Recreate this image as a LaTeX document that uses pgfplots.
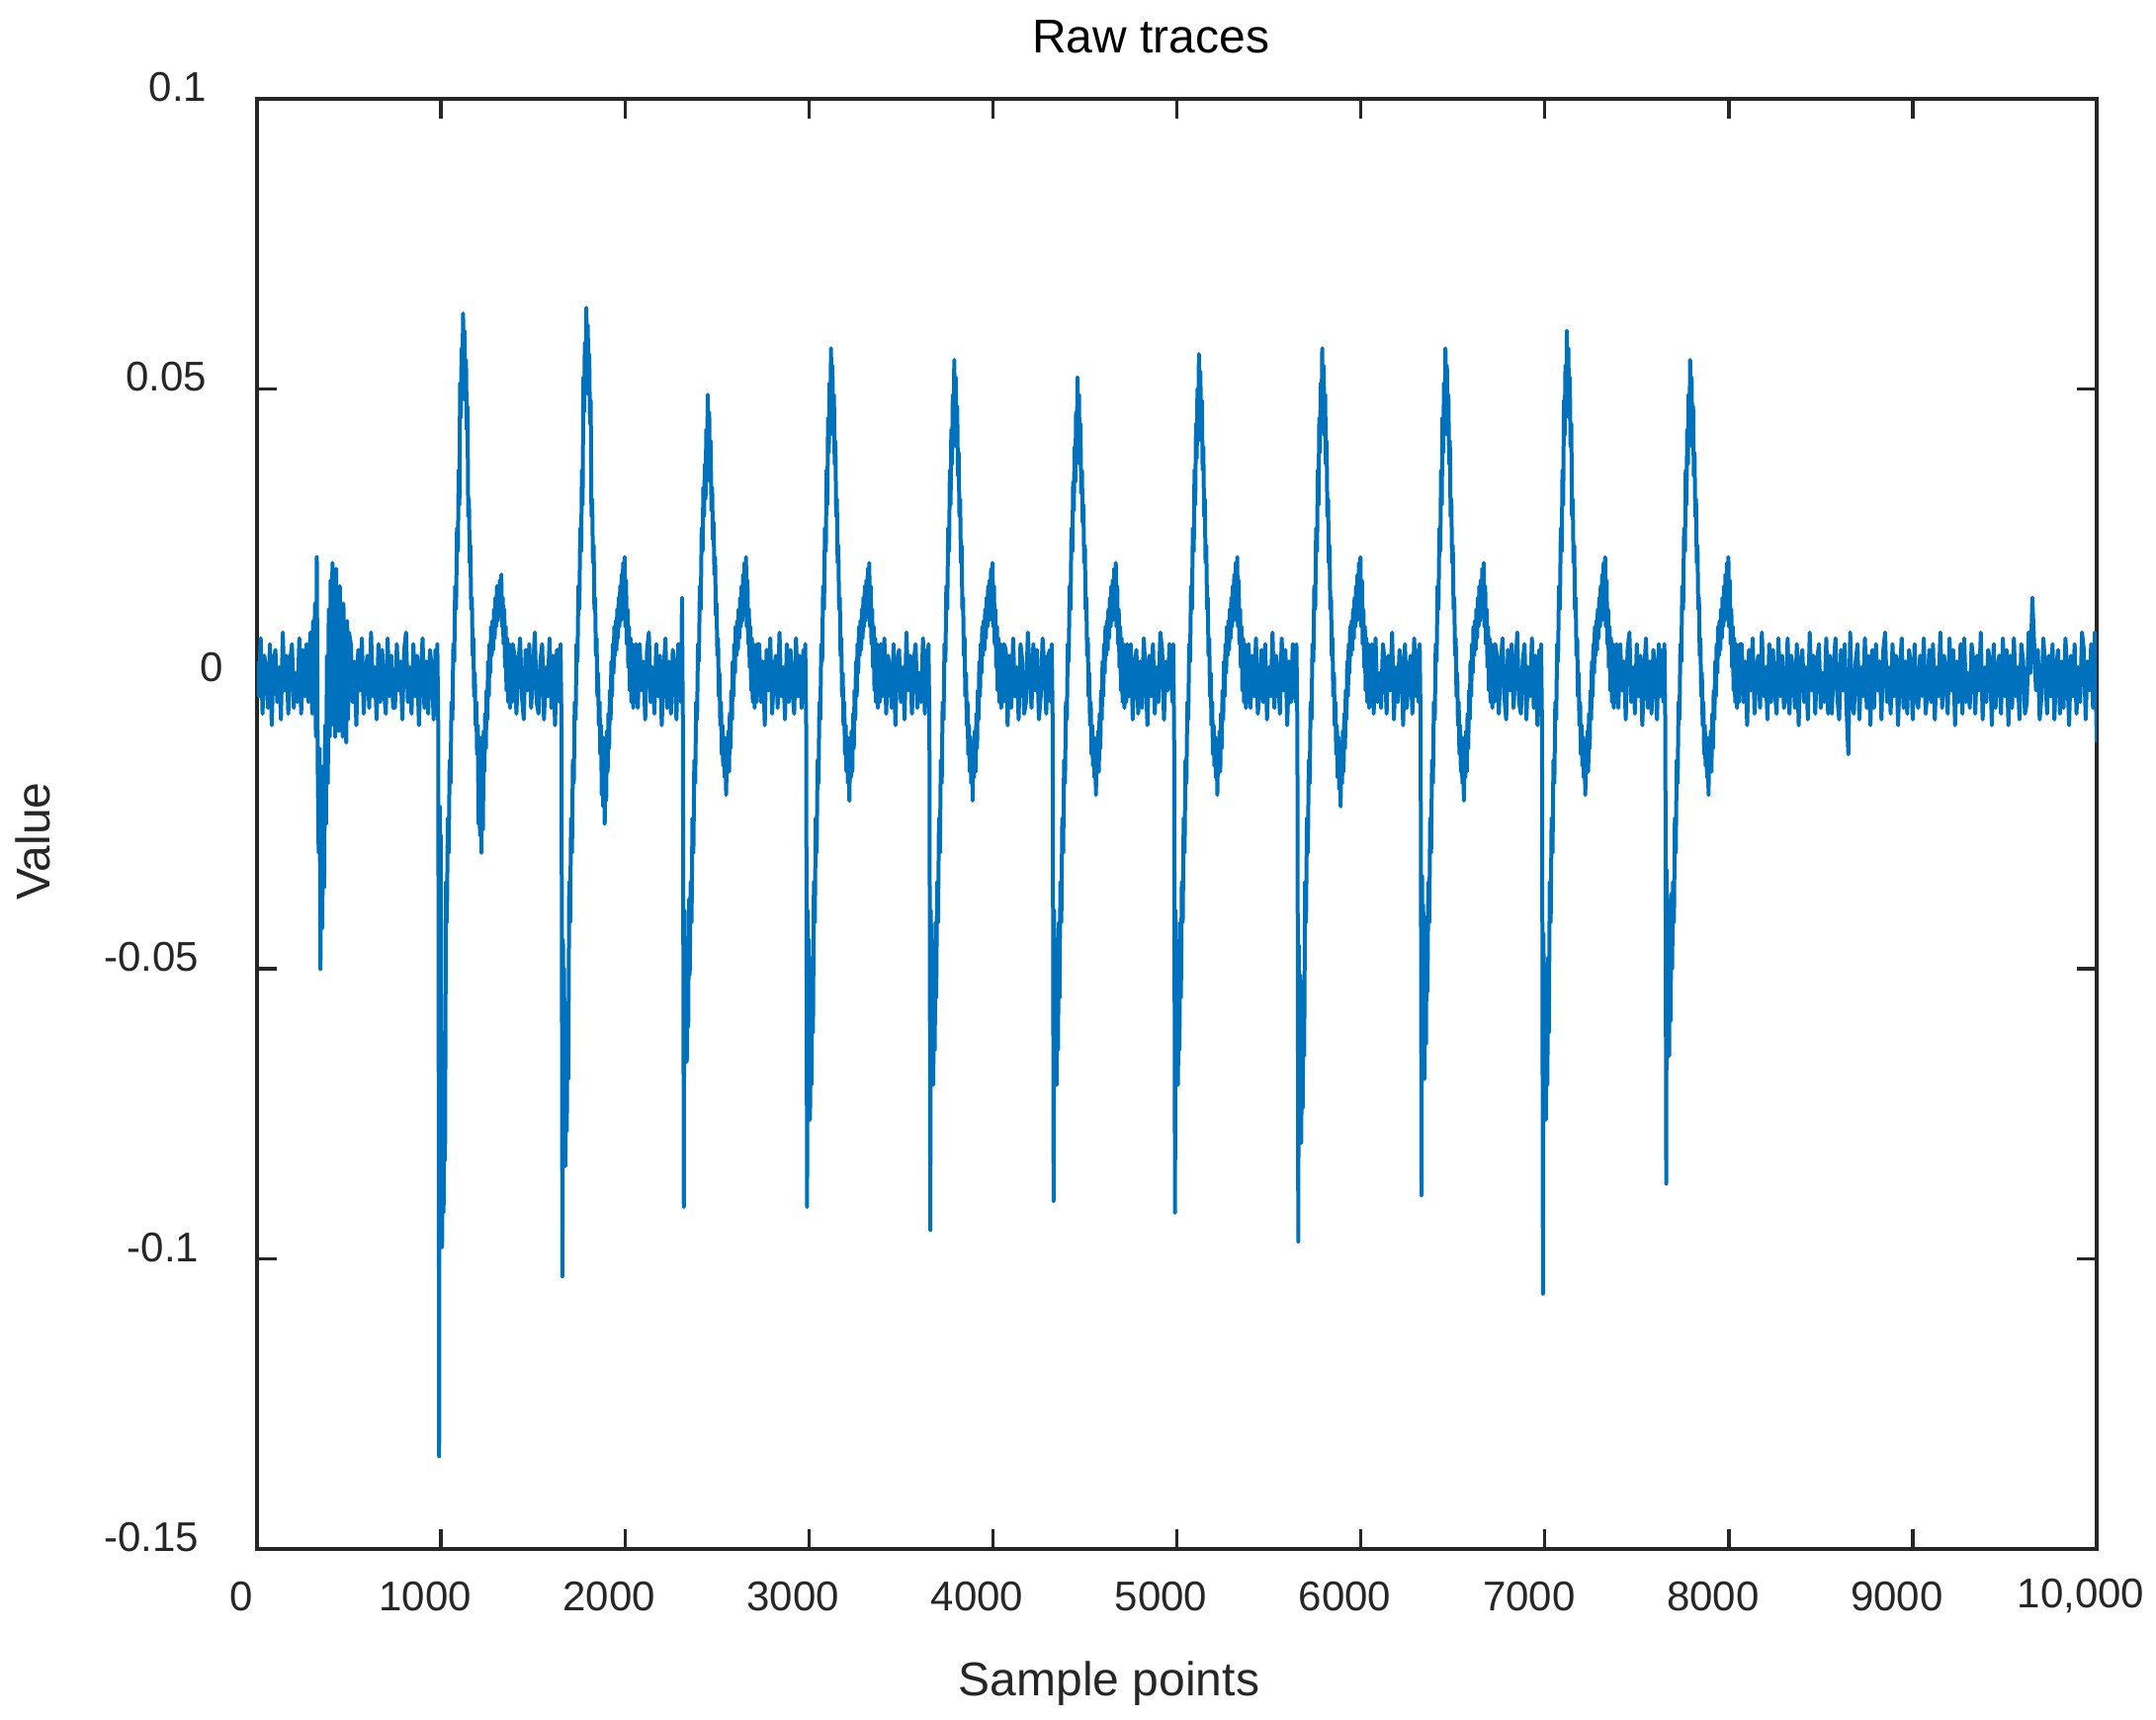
\documentclass[border=0pt]{standalone}
\usepackage{pgfplots}
\pgfplotsset{compat=1.18}
\usepackage{fontspec}
\setmainfont{Liberation Sans}
\definecolor{mblue}{RGB}{0,114,189}
\definecolor{axgray}{RGB}{38,38,38}
\begin{document}
\begin{tikzpicture}
\useasboundingbox (-65pt,-43.25pt) rectangle (480.25pt,391.75pt);
\begin{axis}[
  at={(0,0)}, anchor=south west,
  scale only axis,
  width=465.25pt, height=366.75pt,
  xmin=0, xmax=10000, ymin=-0.15, ymax=0.1,
  axis line style={axgray, line width=0.85pt},
  every tick/.style={axgray, line width=0.85pt},
  tick align=inside,
  major tick length=5pt,
  scaled x ticks=false, scaled y ticks=false,
  every axis title shift=0pt,
  xtick={0,1000,2000,3000,4000,5000,6000,7000,8000,9000,10000},
  xticklabels={0,1000,2000,3000,4000,5000,6000,7000,8000,9000,{10,000}},
  ytick={-0.15,-0.1,-0.05,0,0.05,0.1},
  yticklabels={{-0.15\hspace*{2pt}},{-0.1\hspace*{2pt}},{-0.05\hspace*{2pt}},{0\hspace*{-4.25pt}},0.05,0.1},
  xticklabel style={font=\fontsize{10.5}{12}\selectfont, text=axgray, anchor=center, xshift=-4pt, yshift=-12pt},
  yticklabel style={font=\fontsize{10.5}{12}\selectfont, text=axgray, anchor=east, inner sep=0pt, xshift=-12.5pt, yshift=3pt},
  title={Raw traces},
  title style={font=\fontsize{12}{14}\selectfont, anchor=center, at={(axis description cs:0.4858,1.0429)}},
  xlabel={Sample points},
  xlabel style={font=\fontsize{12}{14}\selectfont, text=axgray, anchor=center, at={(axis description cs:0.4632,-0.0927)}},
  ylabel={Value},
  ylabel style={font=\fontsize{12}{14}\selectfont, text=axgray, anchor=center, at={(axis description cs:-0.122,0.488)}},
]
\addplot[mblue, line width=1pt, line join=round, mark=none] coordinates {
(0,0.003) (10,-0.003) (20,0.007) (30,-0.006) (40,0.004) (50,0.001) (60,-0.005) (70,0.006) (80,-0.008) (90,0.003)
(100,0.005) (110,-0.004) (120,0.002) (130,-0.007) (140,0.008) (150,-0.002) (160,0.004) (170,-0.006) (180,0.003) (190,0.006)
(200,-0.005) (210,0.001) (220,-0.004) (230,0.007) (240,-0.006) (250,0.005) (260,-0.003) (270,0.006) (280,-0.004) (290,0.008)
(300,-0.006) (305,0.01) (310,-0.004) (315,0.013) (320,-0.01) (325,0.021) (330,-0.015) (335,-0.03) (340,-0.012) (345,-0.05)
(350,-0.022) (355,-0.043) (360,-0.015) (365,-0.036) (370,-0.008) (375,-0.025) (380,0.004) (385,-0.018) (390,0.012) (395,-0.01)
(400,0.017) (405,-0.008) (410,0.02) (415,-0.006) (420,0.014) (425,-0.01) (430,0.019) (435,-0.005) (440,0.012) (445,-0.009)
(450,0.016) (455,-0.004) (460,0.011) (465,-0.01) (470,0.013) (475,-0.006) (480,0.009) (485,-0.011) (490,0.01) (495,-0.007) (500,0.008)
(510,0.006) (520,-0.004) (530,0.003) (540,-0.008) (550,0.005) (560,-0.002) (570,0.007) (580,-0.006) (590,0.001) (600,0.004)
(610,-0.005) (620,0.008) (630,-0.003) (640,0.002) (650,-0.007) (660,0.006) (670,-0.004) (680,0.005) (690,-0.002) (700,-0.006)
(710,0.007) (720,-0.003) (730,0.004) (740,-0.005) (750,-0.005) (760,0.006) (770,-0.002) (780,0.003) (790,-0.007) (800,0.005)
(810,0.008) (820,-0.004) (830,0.002) (840,-0.006) (850,0.006) (860,-0.003) (870,0.004) (880,-0.008) (890,0.001) (900,0.007)
(910,-0.005) (920,0.003) (930,-0.006) (940,0.005) (950,0.002) (960,-0.007)
(970,0.005) (975,-0.004) (980,0.006) (985,-0.008) (990,-0.134) (993,-0.022) (996,-0.09) (999,-0.027) (1002,-0.083) (1006,-0.098)
(1010,-0.078) (1014,-0.092) (1018,-0.07) (1022,-0.083) (1027,-0.035) (1032,-0.042) (1037,-0.024) (1042,-0.03) (1047,-0.014) (1052,-0.018)
(1057,-0.004) (1062,-0.007) (1067,0.006) (1072,0.003) (1077,0.016) (1082,0.012) (1087,0.026) (1092,0.022) (1096,0.036) (1100,0.03)
(1104,0.051) (1108,0.045) (1112,0.057) (1116,0.049) (1120,0.063) (1124,0.053) (1128,0.06) (1132,0.048) (1136,0.055) (1140,0.043)
(1144,0.047) (1148,0.028) (1152,0.031) (1156,0.02) (1160,0.023) (1164,0.012) (1168,0.014) (1172,0.004) (1176,0.007) (1180,-0.003)
(1184,0.001) (1188,-0.008) (1192,-0.004) (1196,-0.013) (1200,-0.008) (1204,-0.025) (1208,-0.01) (1212,-0.027) (1216,-0.011) (1220,-0.03)
(1224,-0.012) (1228,-0.026) (1232,-0.009) (1236,-0.016) (1240,-0.006) (1244,-0.012) (1248,-0.002) (1252,-0.007) (1256,0.003) (1260,-0.003)
(1264,0.006) (1268,0.001) (1272,0.009) (1276,0.004) (1280,0.01) (1284,0.005) (1288,0.012) (1292,0.007) (1296,0.014) (1300,0.009)
(1304,0.016) (1308,0.01) (1312,0.015) (1316,0.011) (1320,0.017) (1324,0.012) (1328,0.018) (1332,0.009) (1336,0.014) (1340,0.006)
(1344,0.012) (1348,0.002) (1352,0.009) (1356,-0.002) (1360,0.007) (1365,-0.004) (1370,0.006) (1375,-0.005) (1380,0.005) (1385,-0.004) (1390,0.006)
(1400,0.004) (1410,-0.006) (1420,0.002) (1430,0.007) (1440,-0.003) (1450,-0.007) (1460,0.005) (1470,-0.002) (1480,0.006) (1490,-0.005)
(1500,0.001) (1510,0.008) (1520,-0.004) (1530,-0.006) (1540,0.003) (1550,0.006) (1560,-0.007) (1570,0.002) (1580,-0.003) (1590,0.007)
(1600,-0.005) (1610,0.004) (1620,-0.008) (1630,0.005)
(1640,0.005) (1645,-0.004) (1650,0.006) (1655,-0.008) (1660,-0.103) (1663,-0.045) (1666,-0.076) (1669,-0.05) (1672,-0.069) (1676,-0.084)
(1680,-0.064) (1684,-0.078) (1688,-0.056) (1692,-0.069) (1697,-0.035) (1702,-0.042) (1707,-0.024) (1712,-0.03) (1717,-0.014) (1722,-0.018)
(1727,-0.004) (1732,-0.007) (1737,0.006) (1742,0.003) (1747,0.016) (1752,0.012) (1757,0.026) (1762,0.022) (1766,0.036) (1770,0.03)
(1774,0.052) (1778,0.046) (1782,0.058) (1786,0.05) (1790,0.064) (1794,0.054) (1798,0.061) (1802,0.049) (1806,0.056) (1810,0.044)
(1814,0.048) (1818,0.028) (1822,0.031) (1826,0.02) (1830,0.023) (1834,0.012) (1838,0.014) (1842,0.004) (1846,0.007) (1850,-0.003)
(1854,0.001) (1858,-0.008) (1862,-0.004) (1866,-0.013) (1870,-0.008) (1874,-0.02) (1878,-0.01) (1882,-0.022) (1886,-0.011) (1890,-0.025)
(1894,-0.012) (1898,-0.021) (1902,-0.009) (1906,-0.016) (1910,-0.006) (1914,-0.012) (1918,-0.002) (1922,-0.007) (1926,0.003) (1930,-0.003)
(1934,0.006) (1938,0.001) (1942,0.009) (1946,0.004) (1950,0.01) (1954,0.005) (1958,0.012) (1962,0.007) (1966,0.014) (1970,0.009)
(1974,0.016) (1978,0.01) (1982,0.018) (1986,0.011) (1990,0.02) (1994,0.012) (1998,0.021) (2002,0.009) (2006,0.017) (2010,0.006)
(2014,0.012) (2018,0.002) (2022,0.009) (2026,-0.002) (2030,0.007) (2035,-0.004) (2040,0.006) (2045,-0.005) (2050,0.005) (2055,-0.004) (2060,0.006)
(2070,-0.005) (2080,0.006) (2090,-0.002) (2100,0.003) (2110,-0.007) (2120,0.005) (2130,0.008) (2140,-0.004) (2150,0.002) (2160,-0.006)
(2170,0.006) (2180,-0.003) (2190,0.004) (2200,-0.008) (2210,0.001) (2220,0.007) (2230,-0.005) (2240,0.003) (2250,-0.006) (2260,0.005)
(2270,0.002) (2280,-0.007) (2290,0.006)
(2300,0.005) (2305,-0.004) (2310,0.014) (2315,-0.008) (2320,-0.091) (2323,-0.04) (2326,-0.058) (2329,-0.045) (2332,-0.051) (2336,-0.066)
(2340,-0.046) (2344,-0.06) (2348,-0.038) (2352,-0.051) (2357,-0.035) (2362,-0.042) (2367,-0.024) (2372,-0.03) (2377,-0.014) (2382,-0.018)
(2387,-0.004) (2392,-0.007) (2397,0.006) (2402,0.003) (2407,0.016) (2412,0.012) (2417,0.026) (2422,0.022) (2426,0.033) (2430,0.028)
(2434,0.037) (2438,0.031) (2442,0.043) (2446,0.035) (2450,0.049) (2454,0.039) (2458,0.046) (2462,0.034) (2466,0.041) (2470,0.029)
(2474,0.033) (2478,0.024) (2482,0.027) (2486,0.018) (2490,0.021) (2494,0.011) (2498,0.013) (2502,0.004) (2506,0.007) (2510,-0.003)
(2514,0.001) (2518,-0.008) (2522,-0.004) (2526,-0.013) (2530,-0.008) (2534,-0.015) (2538,-0.01) (2542,-0.017) (2546,-0.011) (2550,-0.02)
(2554,-0.012) (2558,-0.016) (2562,-0.009) (2566,-0.016) (2570,-0.006) (2574,-0.012) (2578,-0.002) (2582,-0.007) (2586,0.003) (2590,-0.003)
(2594,0.006) (2598,0.001) (2602,0.009) (2606,0.004) (2610,0.01) (2614,0.005) (2618,0.012) (2622,0.007) (2626,0.014) (2630,0.009)
(2634,0.016) (2638,0.01) (2642,0.018) (2646,0.011) (2650,0.02) (2654,0.012) (2658,0.021) (2662,0.009) (2666,0.017) (2670,0.006)
(2674,0.012) (2678,0.002) (2682,0.009) (2686,-0.002) (2690,0.007) (2695,-0.004) (2700,0.006) (2705,-0.005) (2710,0.005) (2715,-0.004) (2720,0.006)
(2730,0.006) (2740,-0.004) (2750,0.003) (2760,-0.008) (2770,0.005) (2780,-0.002) (2790,0.007) (2800,-0.006) (2810,0.001) (2820,0.004)
(2830,-0.005) (2840,0.008) (2850,-0.003) (2860,0.002) (2870,-0.007) (2880,0.006) (2890,-0.004) (2900,0.005) (2910,-0.002) (2920,-0.006)
(2930,0.007) (2940,-0.003) (2950,0.004) (2960,-0.005)
(2970,0.005) (2975,-0.004) (2980,0.006) (2985,-0.008) (2990,-0.091) (2993,-0.04) (2996,-0.068) (2999,-0.045) (3002,-0.061) (3006,-0.076)
(3010,-0.056) (3014,-0.07) (3018,-0.048) (3022,-0.061) (3027,-0.035) (3032,-0.042) (3037,-0.024) (3042,-0.03) (3047,-0.014) (3052,-0.018)
(3057,-0.004) (3062,-0.007) (3067,0.006) (3072,0.003) (3077,0.016) (3082,0.012) (3087,0.026) (3092,0.022) (3096,0.036) (3100,0.03)
(3104,0.045) (3108,0.039) (3112,0.051) (3116,0.043) (3120,0.057) (3124,0.047) (3128,0.054) (3132,0.042) (3136,0.049) (3140,0.037)
(3144,0.041) (3148,0.028) (3152,0.031) (3156,0.02) (3160,0.023) (3164,0.012) (3168,0.014) (3172,0.004) (3176,0.007) (3180,-0.003)
(3184,0.001) (3188,-0.008) (3192,-0.004) (3196,-0.013) (3200,-0.008) (3204,-0.016) (3208,-0.01) (3212,-0.018) (3216,-0.011) (3220,-0.021)
(3224,-0.012) (3228,-0.017) (3232,-0.009) (3236,-0.016) (3240,-0.006) (3244,-0.012) (3248,-0.002) (3252,-0.007) (3256,0.003) (3260,-0.003)
(3264,0.006) (3268,0.001) (3272,0.009) (3276,0.004) (3280,0.01) (3284,0.005) (3288,0.012) (3292,0.007) (3296,0.014) (3300,0.009)
(3304,0.016) (3308,0.01) (3312,0.017) (3316,0.011) (3320,0.019) (3324,0.012) (3328,0.02) (3332,0.009) (3336,0.016) (3340,0.006)
(3344,0.012) (3348,0.002) (3352,0.009) (3356,-0.002) (3360,0.007) (3365,-0.004) (3370,0.006) (3375,-0.005) (3380,0.005) (3385,-0.004) (3390,0.006)
(3400,-0.003) (3410,0.007) (3420,-0.006) (3430,0.004) (3440,0.001) (3450,-0.005) (3460,0.006) (3470,-0.008) (3480,0.003) (3490,0.005)
(3500,-0.004) (3510,0.002) (3520,-0.007) (3530,0.008) (3540,-0.002) (3550,0.004) (3560,-0.006) (3570,0.003) (3580,0.006) (3590,-0.005)
(3600,0.001) (3610,-0.004) (3620,0.007) (3630,-0.006)
(3640,0.005) (3645,-0.004) (3650,0.006) (3655,-0.008) (3660,-0.095) (3663,-0.04) (3666,-0.062) (3669,-0.045) (3672,-0.055) (3676,-0.07)
(3680,-0.05) (3684,-0.064) (3688,-0.042) (3692,-0.055) (3697,-0.035) (3702,-0.042) (3707,-0.024) (3712,-0.03) (3717,-0.014) (3722,-0.018)
(3727,-0.004) (3732,-0.007) (3737,0.006) (3742,0.003) (3747,0.016) (3752,0.012) (3757,0.026) (3762,0.022) (3766,0.036) (3770,0.03)
(3774,0.043) (3778,0.037) (3782,0.049) (3786,0.041) (3790,0.055) (3794,0.045) (3798,0.052) (3802,0.04) (3806,0.047) (3810,0.035)
(3814,0.039) (3818,0.028) (3822,0.031) (3826,0.02) (3830,0.023) (3834,0.012) (3838,0.014) (3842,0.004) (3846,0.007) (3850,-0.003)
(3854,0.001) (3858,-0.008) (3862,-0.004) (3866,-0.013) (3870,-0.008) (3874,-0.016) (3878,-0.01) (3882,-0.018) (3886,-0.011) (3890,-0.021)
(3894,-0.012) (3898,-0.017) (3902,-0.009) (3906,-0.016) (3910,-0.006) (3914,-0.012) (3918,-0.002) (3922,-0.007) (3926,0.003) (3930,-0.003)
(3934,0.006) (3938,0.001) (3942,0.009) (3946,0.004) (3950,0.01) (3954,0.005) (3958,0.012) (3962,0.007) (3966,0.014) (3970,0.009)
(3974,0.016) (3978,0.01) (3982,0.017) (3986,0.011) (3990,0.019) (3994,0.012) (3998,0.02) (4002,0.009) (4006,0.016) (4010,0.006)
(4014,0.012) (4018,0.002) (4022,0.009) (4026,-0.002) (4030,0.007) (4035,-0.004) (4040,0.006) (4045,-0.005) (4050,0.005) (4055,-0.004) (4060,0.006)
(4070,0.005) (4080,-0.008) (4090,0.004) (4100,-0.005) (4110,0.007) (4120,-0.003) (4130,0.002) (4140,-0.007) (4150,0.006) (4160,0.003)
(4170,-0.006) (4180,-0.004) (4190,0.008) (4200,0.001) (4210,-0.005) (4220,0.006) (4230,-0.002) (4240,0.005) (4250,-0.007) (4260,-0.003)
(4270,0.007) (4280,0.002) (4290,-0.006) (4300,0.004)
(4310,0.005) (4315,-0.004) (4320,0.006) (4325,-0.008) (4330,-0.09) (4333,-0.04) (4336,-0.062) (4339,-0.045) (4342,-0.055) (4346,-0.07)
(4350,-0.05) (4354,-0.064) (4358,-0.042) (4362,-0.055) (4367,-0.035) (4372,-0.042) (4377,-0.024) (4382,-0.03) (4387,-0.014) (4392,-0.018)
(4397,-0.004) (4402,-0.007) (4407,0.006) (4412,0.003) (4417,0.016) (4422,0.012) (4427,0.026) (4432,0.022) (4436,0.034) (4440,0.029)
(4444,0.04) (4448,0.034) (4452,0.046) (4456,0.038) (4460,0.052) (4464,0.042) (4468,0.049) (4472,0.037) (4476,0.044) (4480,0.032)
(4484,0.036) (4488,0.027) (4492,0.03) (4496,0.02) (4500,0.023) (4504,0.012) (4508,0.014) (4512,0.004) (4516,0.007) (4520,-0.003)
(4524,0.001) (4528,-0.008) (4532,-0.004) (4536,-0.013) (4540,-0.008) (4544,-0.015) (4548,-0.01) (4552,-0.017) (4556,-0.011) (4560,-0.02)
(4564,-0.012) (4568,-0.016) (4572,-0.009) (4576,-0.016) (4580,-0.006) (4584,-0.012) (4588,-0.002) (4592,-0.007) (4596,0.003) (4600,-0.003)
(4604,0.006) (4608,0.001) (4612,0.009) (4616,0.004) (4620,0.01) (4624,0.005) (4628,0.012) (4632,0.007) (4636,0.014) (4640,0.009)
(4644,0.016) (4648,0.01) (4652,0.017) (4656,0.011) (4660,0.019) (4664,0.012) (4668,0.02) (4672,0.009) (4676,0.016) (4680,0.006)
(4684,0.012) (4688,0.002) (4692,0.009) (4696,-0.002) (4700,0.007) (4705,-0.004) (4710,0.006) (4715,-0.005) (4720,0.005) (4725,-0.004) (4730,0.006)
(4740,-0.003) (4750,0.006) (4760,-0.007) (4770,0.002) (4780,0.005) (4790,-0.006) (4800,0.003) (4810,-0.005) (4820,0.007) (4830,0.001)
(4840,-0.008) (4850,0.004) (4860,-0.003) (4870,0.006) (4880,-0.006) (4890,0.002) (4900,-0.004) (4910,0.008) (4920,0.005) (4930,-0.007)
(4940,0.003) (4950,-0.002) (4960,0.006)
(4970,0.005) (4975,-0.004) (4980,0.006) (4985,-0.008) (4990,-0.092) (4993,-0.04) (4996,-0.062) (4999,-0.045) (5002,-0.055) (5006,-0.07)
(5010,-0.05) (5014,-0.064) (5018,-0.042) (5022,-0.055) (5027,-0.035) (5032,-0.042) (5037,-0.024) (5042,-0.03) (5047,-0.014) (5052,-0.018)
(5057,-0.004) (5062,-0.007) (5067,0.006) (5072,0.003) (5077,0.016) (5082,0.012) (5087,0.026) (5092,0.022) (5096,0.036) (5100,0.03)
(5104,0.044) (5108,0.038) (5112,0.05) (5116,0.042) (5120,0.056) (5124,0.046) (5128,0.053) (5132,0.041) (5136,0.048) (5140,0.036)
(5144,0.04) (5148,0.028) (5152,0.031) (5156,0.02) (5160,0.023) (5164,0.012) (5168,0.014) (5172,0.004) (5176,0.007) (5180,-0.003)
(5184,0.001) (5188,-0.008) (5192,-0.004) (5196,-0.013) (5200,-0.008) (5204,-0.015) (5208,-0.01) (5212,-0.017) (5216,-0.011) (5220,-0.02)
(5224,-0.012) (5228,-0.016) (5232,-0.009) (5236,-0.016) (5240,-0.006) (5244,-0.012) (5248,-0.002) (5252,-0.007) (5256,0.003) (5260,-0.003)
(5264,0.006) (5268,0.001) (5272,0.009) (5276,0.004) (5280,0.01) (5284,0.005) (5288,0.012) (5292,0.007) (5296,0.014) (5300,0.009)
(5304,0.016) (5308,0.01) (5312,0.018) (5316,0.011) (5320,0.02) (5324,0.012) (5328,0.021) (5332,0.009) (5336,0.017) (5340,0.006)
(5344,0.012) (5348,0.002) (5352,0.009) (5356,-0.002) (5360,0.007) (5365,-0.004) (5370,0.006) (5375,-0.005) (5380,0.005) (5385,-0.004) (5390,0.006)
(5400,-0.005) (5410,0.004) (5420,-0.003) (5430,0.007) (5440,-0.006) (5450,-0.002) (5460,0.005) (5470,-0.004) (5480,0.006) (5490,-0.007)
(5500,0.002) (5510,-0.003) (5520,0.008) (5530,-0.005) (5540,0.004) (5550,0.001) (5560,-0.006) (5570,0.007) (5580,-0.002) (5590,0.005)
(5600,-0.008) (5610,0.003) (5620,-0.004) (5630,0.006)
(5640,0.005) (5645,-0.004) (5650,0.006) (5655,-0.008) (5660,-0.097) (5663,-0.046) (5666,-0.072) (5669,-0.051) (5672,-0.065) (5676,-0.08)
(5680,-0.06) (5684,-0.074) (5688,-0.052) (5692,-0.065) (5697,-0.035) (5702,-0.042) (5707,-0.024) (5712,-0.03) (5717,-0.014) (5722,-0.018)
(5727,-0.004) (5732,-0.007) (5737,0.006) (5742,0.003) (5747,0.016) (5752,0.012) (5757,0.026) (5762,0.022) (5766,0.036) (5770,0.03)
(5774,0.045) (5778,0.039) (5782,0.051) (5786,0.043) (5790,0.057) (5794,0.047) (5798,0.054) (5802,0.042) (5806,0.049) (5810,0.037)
(5814,0.041) (5818,0.028) (5822,0.031) (5826,0.02) (5830,0.023) (5834,0.012) (5838,0.014) (5842,0.004) (5846,0.007) (5850,-0.003)
(5854,0.001) (5858,-0.008) (5862,-0.004) (5866,-0.013) (5870,-0.008) (5874,-0.017) (5878,-0.01) (5882,-0.019) (5886,-0.011) (5890,-0.022)
(5894,-0.012) (5898,-0.018) (5902,-0.009) (5906,-0.016) (5910,-0.006) (5914,-0.012) (5918,-0.002) (5922,-0.007) (5926,0.003) (5930,-0.003)
(5934,0.006) (5938,0.001) (5942,0.009) (5946,0.004) (5950,0.01) (5954,0.005) (5958,0.012) (5962,0.007) (5966,0.014) (5970,0.009)
(5974,0.016) (5978,0.01) (5982,0.018) (5986,0.011) (5990,0.02) (5994,0.012) (5998,0.021) (6002,0.009) (6006,0.017) (6010,0.006)
(6014,0.012) (6018,0.002) (6022,0.009) (6026,-0.002) (6030,0.007) (6035,-0.004) (6040,0.006) (6045,-0.005) (6050,0.005) (6055,-0.004) (6060,0.006)
(6070,-0.006) (6080,0.007) (6090,-0.004) (6100,0.001) (6110,-0.005) (6120,0.006) (6130,0.003) (6140,-0.006) (6150,0.004) (6160,-0.002)
(6170,0.008) (6180,-0.007) (6190,0.002) (6200,-0.004) (6210,0.005) (6220,0.003) (6230,-0.008) (6240,0.006) (6250,-0.005) (6260,0.001)
(6270,0.004) (6280,-0.006) (6290,0.007) (6300,-0.003)
(6310,0.005) (6315,-0.004) (6320,0.006) (6325,-0.008) (6330,-0.089) (6333,-0.034) (6336,-0.061) (6339,-0.039) (6342,-0.054) (6346,-0.069)
(6350,-0.049) (6354,-0.063) (6358,-0.041) (6362,-0.054) (6367,-0.035) (6372,-0.042) (6377,-0.024) (6382,-0.03) (6387,-0.014) (6392,-0.018)
(6397,-0.004) (6402,-0.007) (6407,0.006) (6412,0.003) (6417,0.016) (6422,0.012) (6427,0.026) (6432,0.022) (6436,0.036) (6440,0.03)
(6444,0.045) (6448,0.039) (6452,0.051) (6456,0.043) (6460,0.057) (6464,0.047) (6468,0.054) (6472,0.042) (6476,0.049) (6480,0.037)
(6484,0.041) (6488,0.028) (6492,0.031) (6496,0.02) (6500,0.023) (6504,0.012) (6508,0.014) (6512,0.004) (6516,0.007) (6520,-0.003)
(6524,0.001) (6528,-0.008) (6532,-0.004) (6536,-0.013) (6540,-0.008) (6544,-0.016) (6548,-0.01) (6552,-0.018) (6556,-0.011) (6560,-0.021)
(6564,-0.012) (6568,-0.017) (6572,-0.009) (6576,-0.016) (6580,-0.006) (6584,-0.012) (6588,-0.002) (6592,-0.007) (6596,0.003) (6600,-0.003)
(6604,0.006) (6608,0.001) (6612,0.009) (6616,0.004) (6620,0.01) (6624,0.005) (6628,0.012) (6632,0.007) (6636,0.014) (6640,0.009)
(6644,0.016) (6648,0.01) (6652,0.017) (6656,0.011) (6660,0.019) (6664,0.012) (6668,0.02) (6672,0.009) (6676,0.016) (6680,0.006)
(6684,0.012) (6688,0.002) (6692,0.009) (6696,-0.002) (6700,0.007) (6705,-0.004) (6710,0.006) (6715,-0.005) (6720,0.005) (6725,-0.004) (6730,0.006)
(6740,0.004) (6750,-0.006) (6760,0.002) (6770,0.007) (6780,-0.003) (6790,-0.007) (6800,0.005) (6810,-0.002) (6820,0.006) (6830,-0.005)
(6840,0.001) (6850,0.008) (6860,-0.004) (6870,-0.006) (6880,0.003) (6890,0.006) (6900,-0.007) (6910,0.002) (6920,-0.003) (6930,0.007)
(6940,-0.005) (6950,0.004) (6960,-0.008)
(6970,0.005) (6975,-0.004) (6980,0.006) (6985,-0.008) (6990,-0.106) (6993,-0.044) (6996,-0.068) (6999,-0.049) (7002,-0.061) (7006,-0.076)
(7010,-0.056) (7014,-0.07) (7018,-0.048) (7022,-0.061) (7027,-0.035) (7032,-0.042) (7037,-0.024) (7042,-0.03) (7047,-0.014) (7052,-0.018)
(7057,-0.004) (7062,-0.007) (7067,0.006) (7072,0.003) (7077,0.016) (7082,0.012) (7087,0.026) (7092,0.022) (7096,0.036) (7100,0.03)
(7104,0.048) (7108,0.042) (7112,0.054) (7116,0.046) (7120,0.06) (7124,0.05) (7128,0.057) (7132,0.045) (7136,0.052) (7140,0.04)
(7144,0.044) (7148,0.028) (7152,0.031) (7156,0.02) (7160,0.023) (7164,0.012) (7168,0.014) (7172,0.004) (7176,0.007) (7180,-0.003)
(7184,0.001) (7188,-0.008) (7192,-0.004) (7196,-0.013) (7200,-0.008) (7204,-0.015) (7208,-0.01) (7212,-0.017) (7216,-0.011) (7220,-0.02)
(7224,-0.012) (7228,-0.016) (7232,-0.009) (7236,-0.016) (7240,-0.006) (7244,-0.012) (7248,-0.002) (7252,-0.007) (7256,0.003) (7260,-0.003)
(7264,0.006) (7268,0.001) (7272,0.009) (7276,0.004) (7280,0.01) (7284,0.005) (7288,0.012) (7292,0.007) (7296,0.014) (7300,0.009)
(7304,0.016) (7308,0.01) (7312,0.018) (7316,0.011) (7320,0.02) (7324,0.012) (7328,0.021) (7332,0.009) (7336,0.017) (7340,0.006)
(7344,0.012) (7348,0.002) (7352,0.009) (7356,-0.002) (7360,0.007) (7365,-0.004) (7370,0.006) (7375,-0.005) (7380,0.005) (7385,-0.004) (7390,0.006)
(7400,-0.005) (7410,0.006) (7420,-0.002) (7430,0.003) (7440,-0.007) (7450,0.005) (7460,0.008) (7470,-0.004) (7480,0.002) (7490,-0.006)
(7500,0.006) (7510,-0.003) (7520,0.004) (7530,-0.008) (7540,0.001) (7550,0.007) (7560,-0.005) (7570,0.003) (7580,-0.006) (7590,0.005)
(7600,0.002) (7610,-0.007) (7620,0.006) (7630,-0.003)
(7640,0.005) (7645,-0.004) (7650,0.006) (7655,-0.008) (7660,-0.087) (7663,-0.033) (7666,-0.057) (7669,-0.038) (7672,-0.05) (7676,-0.065)
(7680,-0.045) (7684,-0.059) (7688,-0.037) (7692,-0.05) (7697,-0.035) (7702,-0.042) (7707,-0.024) (7712,-0.03) (7717,-0.014) (7722,-0.018)
(7727,-0.004) (7732,-0.007) (7737,0.006) (7742,0.003) (7747,0.016) (7752,0.012) (7757,0.026) (7762,0.022) (7766,0.036) (7770,0.03)
(7774,0.043) (7778,0.037) (7782,0.049) (7786,0.041) (7790,0.055) (7794,0.045) (7798,0.052) (7802,0.04) (7806,0.047) (7810,0.035)
(7814,0.039) (7818,0.028) (7822,0.031) (7826,0.02) (7830,0.023) (7834,0.012) (7838,0.014) (7842,0.004) (7846,0.007) (7850,-0.003)
(7854,0.001) (7858,-0.008) (7862,-0.004) (7866,-0.013) (7870,-0.008) (7874,-0.015) (7878,-0.01) (7882,-0.017) (7886,-0.011) (7890,-0.02)
(7894,-0.012) (7898,-0.016) (7902,-0.009) (7906,-0.016) (7910,-0.006) (7914,-0.012) (7918,-0.002) (7922,-0.007) (7926,0.003) (7930,-0.003)
(7934,0.006) (7938,0.001) (7942,0.009) (7946,0.004) (7950,0.01) (7954,0.005) (7958,0.012) (7962,0.007) (7966,0.014) (7970,0.009)
(7974,0.016) (7978,0.01) (7982,0.018) (7986,0.011) (7990,0.02) (7994,0.012) (7998,0.021) (8002,0.009) (8006,0.017) (8010,0.006)
(8014,0.012) (8018,0.002) (8022,0.009) (8026,-0.002) (8030,0.007) (8035,-0.004) (8040,0.006) (8045,-0.005) (8050,0.005) (8055,-0.004) (8060,0.006)
(8070,0.006) (8080,-0.004) (8090,0.003) (8100,-0.008) (8110,0.005) (8120,-0.002) (8130,0.007) (8140,-0.006) (8150,0.001) (8160,0.004)
(8170,-0.005) (8180,0.008) (8190,-0.003) (8200,0.002) (8210,-0.007) (8220,0.006) (8230,-0.004) (8240,0.005) (8250,-0.002) (8260,-0.006)
(8270,0.007) (8280,-0.003) (8290,0.004) (8300,-0.005) (8310,-0.003) (8320,0.007) (8330,-0.006) (8340,0.004) (8350,0.001) (8360,-0.005)
(8370,0.006) (8380,-0.008) (8390,0.003) (8400,0.005) (8410,-0.004) (8420,0.002) (8430,-0.007) (8440,0.008) (8450,-0.002) (8460,0.004)
(8470,-0.006) (8480,0.003) (8490,0.006) (8500,-0.005) (8510,0.001) (8520,-0.004) (8530,0.007) (8540,-0.006) (8550,0.004) (8560,-0.006)
(8570,0.002) (8580,0.007) (8590,-0.003) (8600,-0.007) (8610,0.005) (8620,-0.002) (8630,0.006) (8640,-0.005) (8650,-0.013) (8660,0.008)
(8670,-0.004) (8680,-0.006) (8690,0.003) (8700,0.006) (8710,-0.007) (8720,0.002) (8730,-0.003) (8740,0.007) (8750,-0.005) (8760,0.004)
(8770,-0.008) (8780,0.005) (8790,-0.005) (8800,0.006) (8810,-0.002) (8820,0.003) (8830,-0.007) (8840,0.005) (8850,0.008) (8860,-0.004)
(8870,0.002) (8880,-0.006) (8890,0.006) (8900,-0.003) (8910,0.004) (8920,-0.008) (8930,0.001) (8940,0.007) (8950,-0.005) (8960,0.003)
(8970,-0.006) (8980,0.005) (8990,0.002) (9000,-0.007) (9010,0.006) (9020,-0.003) (9030,-0.005) (9040,0.004) (9050,-0.003) (9060,0.007)
(9070,-0.006) (9080,-0.002) (9090,0.005) (9100,-0.004) (9110,0.006) (9120,-0.007) (9130,0.002) (9140,-0.003) (9150,0.008) (9160,-0.005)
(9170,0.004) (9180,0.001) (9190,-0.006) (9200,0.007) (9210,-0.002) (9220,0.005) (9230,-0.008) (9240,0.003) (9250,-0.004) (9260,0.006)
(9270,-0.006) (9280,0.007) (9290,-0.004) (9300,0.001) (9310,-0.005) (9320,0.006) (9330,0.003) (9340,-0.006) (9350,0.004) (9360,-0.002)
(9370,0.008) (9380,-0.007) (9390,0.002) (9400,-0.004) (9410,0.005) (9420,0.003) (9430,-0.008) (9440,0.006) (9450,-0.005) (9460,0.001)
(9470,0.004) (9480,-0.006) (9490,0.007) (9500,-0.003) (9510,0.005) (9520,-0.008) (9530,0.004) (9540,-0.005) (9550,0.007) (9560,-0.003)
(9570,0.002) (9580,-0.007) (9590,0.006) (9600,0.003) (9610,-0.006) (9620,-0.004) (9630,0.008) (9640,0.001) (9650,0.014) (9660,0.006)
(9670,-0.002) (9680,0.005) (9690,-0.007) (9700,-0.003) (9710,0.007) (9720,0.002) (9730,-0.006) (9740,0.004) (9750,-0.003) (9760,0.006)
(9770,-0.007) (9780,0.002) (9790,0.005) (9800,-0.006) (9810,0.003) (9820,-0.005) (9830,0.007) (9840,0.001) (9850,-0.008) (9860,0.004)
(9870,-0.003) (9880,0.006) (9890,-0.006) (9900,0.002) (9910,-0.004) (9920,0.008) (9930,0.005) (9940,-0.007) (9950,0.003) (9960,-0.002)
(9970,0.006) (9980,-0.005) (9990,0.008) (10000,-0.011)
};
\end{axis}
\end{tikzpicture}
\end{document}
